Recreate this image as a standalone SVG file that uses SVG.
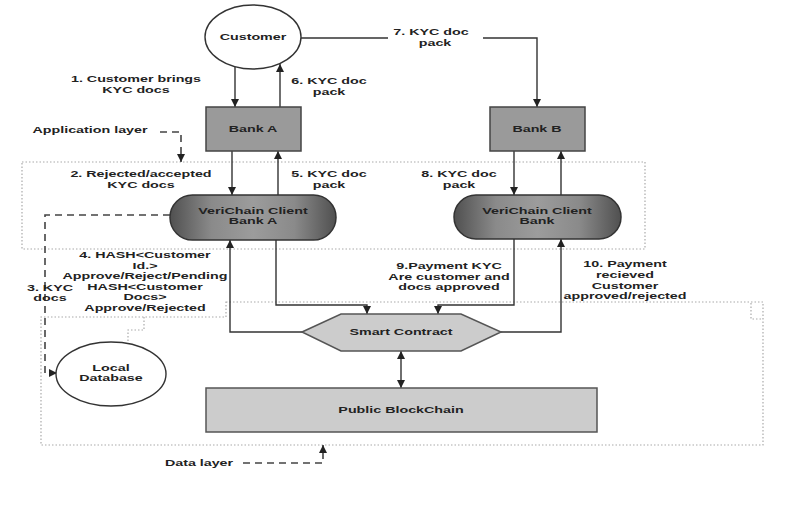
<svg xmlns="http://www.w3.org/2000/svg" width="805" height="529" viewBox="0 0 805 529">
<style>
text{font-family:"Liberation Sans",Arial,sans-serif;font-weight:bold;font-size:9.4px;fill:#222;text-anchor:middle}
.ln{fill:none;stroke:#333;stroke-width:1.4}
.dash{fill:none;stroke:#444;stroke-width:1.6;stroke-dasharray:7 5}
.dot{fill:none;stroke:#aaa;stroke-width:1.2;stroke-dasharray:1.5 2}
.bank{fill:#9a9a9a;stroke:#444;stroke-width:1.5}
.light{fill:#cccccc;stroke:#555;stroke-width:1.5}
</style>
<defs>
<marker id="ah" viewBox="0 0 10 10" refX="10" refY="5" markerWidth="8" markerHeight="8" markerUnits="userSpaceOnUse" orient="auto">
<path d="M0,0 L10,5 L0,10 Z" fill="#222"/>
</marker>
<marker id="as" viewBox="0 0 10 10" refX="0" refY="5" markerWidth="8" markerHeight="8" markerUnits="userSpaceOnUse" orient="auto">
<path d="M10,0 L0,5 L10,10 Z" fill="#222"/>
</marker>
<linearGradient id="pill" x1="0" y1="0" x2="1" y2="0">
<stop offset="0" stop-color="#505050"/>
<stop offset="0.25" stop-color="#8a8a8a"/>
<stop offset="0.5" stop-color="#9c9c9c"/>
<stop offset="0.75" stop-color="#8a8a8a"/>
<stop offset="1" stop-color="#505050"/>
</linearGradient>
</defs>
<rect width="805" height="529" fill="#fff"/>

<g id="layers">
<rect class="dot" x="22" y="162" width="623" height="87"/>
<path class="dot" d="M226,302 H763 V445 H41 V317 H226 Z"/>
<path class="dot" d="M751,303 V319 H763"/>
<path class="dot" d="M144,317 V330 H128 V342"/>
</g>

<g id="connectors">
<path class="ln" d="M235,67 V107" marker-end="url(#ah)"/>
<path class="ln" d="M280,107 V64" marker-end="url(#ah)"/>
<path class="ln" d="M301,38 H388 M483,38 H537 V107" marker-end="url(#ah)"/>
<path class="ln" d="M232,151 V195" marker-end="url(#ah)"/>
<path class="ln" d="M278,195 V151" marker-end="url(#ah)"/>
<path class="ln" d="M514,151 V195" marker-end="url(#ah)"/>
<path class="ln" d="M561,195 V151" marker-end="url(#ah)"/>
<path class="dash" d="M170,215 H45 V373 H57" marker-end="url(#ah)"/>
<path class="ln" d="M276,240 V305 H367 V314" marker-end="url(#ah)"/>
<path class="ln" d="M302,332 H230 V240" marker-end="url(#ah)"/>
<path class="ln" d="M514,239 V305 H438 V314" marker-end="url(#ah)"/>
<path class="ln" d="M501,332 H561 V239" marker-end="url(#ah)"/>
<path class="ln" d="M401,351 V388" marker-start="url(#as)" marker-end="url(#ah)"/>
<path class="dash" d="M160,132 H181 V162" marker-end="url(#ah)"/>
<path class="dash" d="M243,463 H323 V445" marker-end="url(#ah)"/>
</g>

<g id="customer">
<ellipse cx="253" cy="37" rx="48" ry="32" fill="#fff" stroke="#333" stroke-width="1.4"/>
<text transform="translate(253,0) scale(1.52,1)" y="40.5">Customer</text>
</g>
<g id="bankA">
<rect class="bank" x="206" y="107" width="95" height="44"/>
<text transform="translate(253,0) scale(1.52,1)" y="132">Bank A</text>
</g>
<g id="bankB">
<rect class="bank" x="490" y="107" width="95" height="44"/>
<text transform="translate(537,0) scale(1.52,1)" y="132">Bank B</text>
</g>
<g id="clientA">
<rect x="170" y="195" width="166" height="45" rx="22.5" fill="url(#pill)" stroke="#333" stroke-width="1.5"/>
<text transform="translate(253,0) scale(1.52,1)" y="214.5">VeriChain Client</text>
<text transform="translate(253,0) scale(1.52,1)" y="224.5">Bank A</text>
</g>
<g id="clientB">
<rect x="454" y="195" width="167" height="44" rx="22" fill="url(#pill)" stroke="#333" stroke-width="1.5"/>
<text transform="translate(537,0) scale(1.52,1)" y="214.5">VeriChain Client</text>
<text transform="translate(537,0) scale(1.52,1)" y="224.5">Bank</text>
</g>
<g id="localdb">
<ellipse cx="111" cy="374" rx="55" ry="32" fill="#fff" stroke="#333" stroke-width="1.4"/>
<text transform="translate(111,0) scale(1.52,1)" y="371.5">Local</text>
<text transform="translate(111,0) scale(1.52,1)" y="381.5">Database</text>
</g>
<g id="smartcontract">
<polygon class="light" points="302,332 341,314 461,314 501,332 461,351 341,351"/>
<text transform="translate(401,0) scale(1.52,1)" y="335.5">Smart Contract</text>
</g>
<g id="blockchain">
<rect class="light" x="206" y="388" width="391" height="44"/>
<text transform="translate(401,0) scale(1.52,1)" y="413.5">Public BlockChain</text>
</g>

<g id="labels">
<text transform="translate(136,0) scale(1.52,1)" y="82.5">1. Customer brings</text>
<text transform="translate(136,0) scale(1.52,1)" y="93">KYC docs</text>
<text transform="translate(329,0) scale(1.52,1)" y="84.5">6. KYC doc</text>
<text transform="translate(329,0) scale(1.52,1)" y="95">pack</text>
<text transform="translate(431,0) scale(1.52,1)" y="35.5">7. KYC doc</text>
<text transform="translate(435,0) scale(1.52,1)" y="46.5">pack</text>
<text transform="translate(90,0) scale(1.52,1)" y="133.5">Application layer</text>
<text transform="translate(141,0) scale(1.52,1)" y="177.5">2. Rejected/accepted</text>
<text transform="translate(141,0) scale(1.52,1)" y="188">KYC docs</text>
<text transform="translate(329,0) scale(1.52,1)" y="177.5">5. KYC doc</text>
<text transform="translate(329,0) scale(1.52,1)" y="188">pack</text>
<text transform="translate(459,0) scale(1.52,1)" y="177.5">8. KYC doc</text>
<text transform="translate(459,0) scale(1.52,1)" y="188">pack</text>
<text transform="translate(145,0) scale(1.52,1)" y="258.5">4. HASH&lt;Customer</text>
<text transform="translate(145,0) scale(1.52,1)" y="269">Id.&gt;</text>
<text transform="translate(145,0) scale(1.52,1)" y="279.5">Approve/Reject/Pending</text>
<text transform="translate(145,0) scale(1.52,1)" y="290">HASH&lt;Customer</text>
<text transform="translate(145,0) scale(1.52,1)" y="300.5">Docs&gt;</text>
<text transform="translate(145,0) scale(1.52,1)" y="311">Approve/Rejected</text>
<text transform="translate(50,0) scale(1.52,1)" y="291.5">3. KYC</text>
<text transform="translate(50,0) scale(1.52,1)" y="301.5">docs</text>
<text transform="translate(449,0) scale(1.52,1)" y="269.5">9.Payment KYC</text>
<text transform="translate(449,0) scale(1.52,1)" y="280.5">Are customer and</text>
<text transform="translate(449,0) scale(1.52,1)" y="290.5">docs approved</text>
<text transform="translate(625,0) scale(1.52,1)" y="267.5">10. Payment</text>
<text transform="translate(625,0) scale(1.52,1)" y="278.5">recieved</text>
<text transform="translate(625,0) scale(1.52,1)" y="289.5">Customer</text>
<text transform="translate(625,0) scale(1.52,1)" y="299.5">approved/rejected</text>
<text transform="translate(199,0) scale(1.52,1)" y="466.5">Data layer</text>
</g>
</svg>
